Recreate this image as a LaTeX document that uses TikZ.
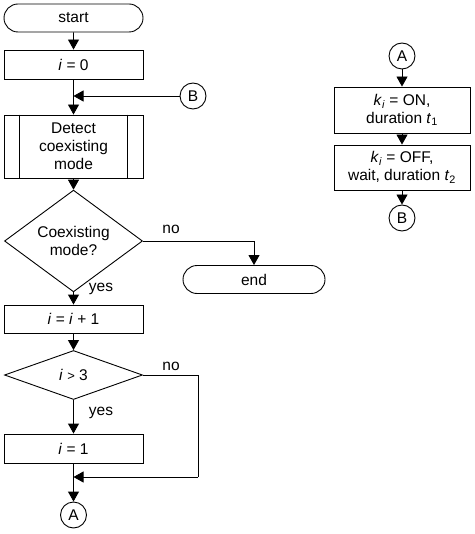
\documentclass[tikz,border=0pt]{standalone}
\usepackage{fontspec}
\setmainfont{Liberation Sans}
\usetikzlibrary{shapes.geometric,shapes.misc,arrows.meta}

\begin{document}
\begin{tikzpicture}[font=\fontsize{15.5}{18}\selectfont]
    \def\dx{1pt}
    \def\dy{-1pt}
    \newcounter{fc}
    \tikzstyle{terminal}=[draw, rounded rectangle, minimum height=28pt, inner sep=0pt, line width=0.9pt]
    \tikzstyle{process}=[draw, rectangle, minimum width=139pt, inner sep=0pt, line width=0.9pt, align=center]
    \tikzstyle{decision}=[draw, diamond, minimum width=138pt, inner sep=0pt, line width=0.9pt, align=center]
    \tikzstyle{connector}=[draw, circle, minimum size=26pt, inner sep=0pt, line width=0.9pt]
    \tikzstyle{label}=[inner sep=0pt]

    \useasboundingbox (0,0) rectangle (474*\dx,534*\dy);

    \stepcounter{fc}\node[terminal, minimum width=139pt]  (\arabic{fc}) at (73.5*\dx,18*\dy) {start};
    \stepcounter{fc}\node[process, minimum height=29pt]  (\arabic{fc}) at (73.5*\dx,64.5*\dy) {\textit{i} = 0};
    \stepcounter{fc}\node[process, minimum height=63pt]  (\arabic{fc}) at (73.5*\dx,146.5*\dy) {Detect\\coexisting\\mode};
    \stepcounter{fc}\node[decision, minimum height=83pt]  (\arabic{fc}) at (73.5*\dx,241*\dy) {Coexisting\\mode?};
    \stepcounter{fc}\node[terminal, minimum width=142pt]  (\arabic{fc}) at (254*\dx,279.5*\dy) {end};
    \stepcounter{fc}\node[process, minimum height=28pt]  (\arabic{fc}) at (73.5*\dx,319*\dy) {\textit{i} = \textit{i} + 1};
    \stepcounter{fc}\node[decision, minimum height=49pt]  (\arabic{fc}) at (73.5*\dx,375*\dy) {\textit{i} {\fontsize{13}{15}\selectfont>} 3};
    \stepcounter{fc}\node[process, minimum height=29pt]  (\arabic{fc}) at (73.5*\dx,448.5*\dy) {\textit{i} = 1};
    \stepcounter{fc}\node[connector]  (\arabic{fc}) at (73.5*\dx,515*\dy) {A};
    \stepcounter{fc}\node[connector]  (\arabic{fc}) at (402*\dx,56*\dy) {A};
    \stepcounter{fc}\node[process, minimum width=136pt, minimum height=46pt]  (\arabic{fc}) at (402*\dx,110*\dy) {\textit{k}\textsubscript{\textit{i}} = ON,\\duration \textit{t}\textsubscript{1}};
    \stepcounter{fc}\node[process, minimum width=136pt, minimum height=45pt]  (\arabic{fc}) at (402*\dx,167.5*\dy) {\textit{k}\textsubscript{\textit{i}} = OFF,\\wait, duration \textit{t}\textsubscript{2}};
    \stepcounter{fc}\node[connector]  (\arabic{fc}) at (402*\dx,218*\dy) {B};
    \stepcounter{fc}\node[connector]  (\arabic{fc}) at (193*\dx,96*\dy) {B};

    \stepcounter{fc}\node[label]  (\arabic{fc}) at (171*\dx,229*\dy) {no};
    \stepcounter{fc}\node[label]  (\arabic{fc}) at (101*\dx,289*\dy) {yes};
    \stepcounter{fc}\node[label]  (\arabic{fc}) at (171*\dx,366*\dy) {no};
    \stepcounter{fc}\node[label]  (\arabic{fc}) at (101*\dx,413*\dy) {yes};

    \coordinate (j1) at (73.5*\dx,96*\dy);
    \coordinate (j2) at (73.5*\dx,477*\dy);
    \coordinate (j3) at (198*\dx,477*\dy);

    % subroutine bars
    \draw[line width=0.9pt] ([xshift=16pt]3.north west) -- ([xshift=16pt]3.south west);
    \draw[line width=0.9pt] ([xshift=-16pt]3.north east) -- ([xshift=-16pt]3.south east);

    \tikzstyle{flow} = [-{Triangle[length=10pt,width=11pt]}, draw=black, line width=0.9pt]
    \tikzstyle{line} = [draw=black, line width=0.9pt]

          \draw [flow] (1) -- (2);
          \draw [flow] (2) -- (3);
          \draw [flow] (14) -- (j1);
          \draw [flow] (3) -- (4);
          \draw [flow] (4.east) -| (5.north);
          \draw [flow] (4) -- (6);
          \draw [flow] (6) -- (7);
          \draw [flow] (7) -- (8);
          \draw [flow] (8) -- (9);
          \draw [line] (7.east) -| (j3);
          \draw [flow] (j3) -- (j2);

          \draw [flow] (10) -- (11);
          \draw [flow] (11) -- (12);
          \draw [flow] (12) -- (13);
\end{tikzpicture}
\end{document}
